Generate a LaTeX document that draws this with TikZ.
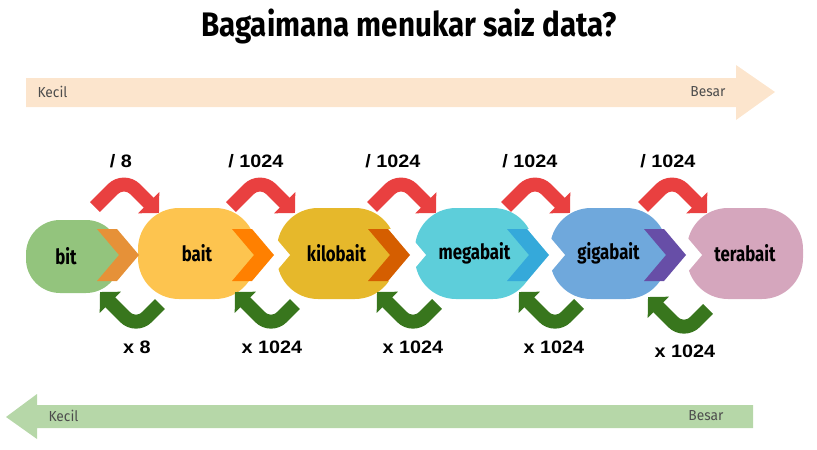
\documentclass[tikz,border=0pt]{standalone}
\usepackage{fontspec}
\setmainfont{Fira Sans}
\newfontfamily\condfont[FakeStretch=0.8]{Fira Sans}
\newfontfamily\titlefont[FakeStretch=0.87]{Fira Sans}
\newfontfamily\labfont[FakeStretch=0.95]{Fira Sans}
\newfontfamily\numfont[FakeStretch=1.1]{Liberation Sans}
\usetikzlibrary{arrows.meta}
\definecolor{cbit}{HTML}{93C47D}
\definecolor{cbait}{HTML}{FDC44F}
\definecolor{ckilo}{HTML}{E6B82B}
\definecolor{cmega}{HTML}{5DCEDA}
\definecolor{cgiga}{HTML}{6FA8DC}
\definecolor{ctera}{HTML}{D5A6BD}
\definecolor{chA}{HTML}{E69138}
\definecolor{chB}{HTML}{FF8000}
\definecolor{chC}{HTML}{D55E00}
\definecolor{chD}{HTML}{35A9DA}
\definecolor{chE}{HTML}{674EA7}
\definecolor{cred}{HTML}{E94040}
\definecolor{cgreen}{HTML}{38761D}
\definecolor{ctop}{HTML}{FCE5CD}
\definecolor{cbot}{HTML}{B6D7A8}
\definecolor{cgray}{HTML}{4D4D4D}
\begin{document}
\begin{tikzpicture}[x=1pt,y=-1pt,
  blob/.style={rectangle, rounded corners=41pt, inner sep=0pt, minimum height=91pt,
    font=\condfont\bfseries\fontsize{21}{24}\selectfont, text=black},
  ratio/.style={font=\numfont\bfseries\fontsize{18}{20}\selectfont, text=black},
  scalelab/.style={font=\labfont\fontsize{14.5}{16}\selectfont, text=cgray},
  redarr/.style={draw=cred, line width=14pt, -{Triangle[width=29pt,length=14.5pt]}},
  greenarr/.style={draw=cgreen, line width=14pt, -{Triangle[width=29pt,length=14.5pt]}}]
\useasboundingbox (0,0) rectangle (817,450);

% title
\node[font=\titlefont\bfseries\fontsize{34}{38}\selectfont, anchor=base] (title) at (409,36.7) {Bagaimana menukar saiz data?};

% scale arrows
\fill[ctop] (26,78) -- (736,78) -- (736,65) -- (775,92) -- (736,120) -- (736,107) -- (26,107) -- cycle;
\node[scalelab, anchor=west] (k1) at (34,92) {Kecil};
\node[scalelab, anchor=east] (b1) at (729,92) {Besar};
\fill[cbot] (753,405) -- (37,405) -- (37,394) -- (6,417) -- (37,439) -- (37,428) -- (753,428) -- cycle;
\node[scalelab, anchor=west] (k2) at (45,416) {Kecil};
\node[scalelab, anchor=east] (b2) at (727,416) {Besar};

% blobs
\node[blob, fill=cbit, minimum width=94pt, minimum height=73pt, rounded corners=34pt] (bit) at (73,256.5) {bit\kern14pt};
\node[blob, fill=cbait, minimum width=118pt] (bait) at (197,253.5) {bait};
\node[blob, fill=ckilo, minimum width=119pt] (kilo) at (336.5,253.5) {kilobait};
\node[blob, fill=cmega, minimum width=119pt] (mega) at (474.5,253.5) {megabait};
\node[blob, fill=cgiga, minimum width=117pt] (giga) at (608.5,253.5) {gigabait};
\node[blob, fill=ctera, minimum width=116pt] (tera) at (745,253.5) {terabait};

% notches
\foreach \x in {232,368,507,644}{
  \fill[white] (\x+20,229) -- (\x+36,229) -- (\x+58,255) -- (\x+36,281) -- (\x+20,281) -- (\x+42,255) -- cycle;
}
% chevrons
\foreach \x/\c in {97/chA,232/chB,368/chC,507/chD,644/chE}{
  \fill[\c] (\x,229) -- (\x+20,229) -- (\x+42,255) -- (\x+20,281) -- (\x,281) -- (\x+22,255) -- cycle;
}

% red arrows (divide)
\foreach \dx in {0,136,277,411,548}{
  \draw[redarr, xshift=\dx] (95,207) -- (112.7,189.3) .. controls (119,183) and (129,183) .. (135.3,189.3) -- (159,213);
}
% green arrows (multiply)
\foreach \dx/\dy in {0/0,135/0,277/0,419/0,548/-5}{
  \draw[greenarr, xshift=\dx, yshift=\dy] (160,304) -- (147.1,316.9) .. controls (141,323.2) and (131,323.2) .. (124.9,316.9) -- (100,292);
}

% labels
\node[ratio] (d1) at (121,161) {/ 8};
\node[ratio] (d2) at (256,161) {/ 1024};
\node[ratio] (d3) at (393,161) {/ 1024};
\node[ratio] (d4) at (530,161) {/ 1024};
\node[ratio] (d5) at (668,161) {/ 1024};
\node[ratio] (m1) at (137,347) {x 8};
\node[ratio] (m2) at (272,347) {x 1024};
\node[ratio] (m3) at (413,347) {x 1024};
\node[ratio] (m4) at (554,347) {x 1024};
\node[ratio] (m5) at (685,351) {x 1024};
\end{tikzpicture}
\end{document}
